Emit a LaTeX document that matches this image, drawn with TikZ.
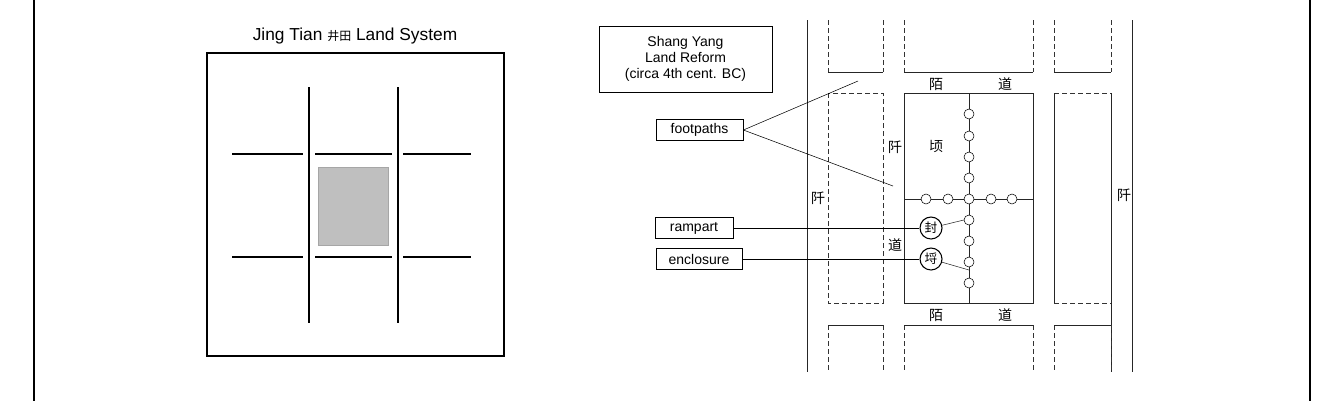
\documentclass[tikz,border=0pt]{standalone}
\usepackage{fontspec}
\setmainfont{Liberation Sans}
\newfontfamily\cjk{Noto Sans CJK SC}
\begin{document}
\begin{tikzpicture}[x=0.75pt,y=-0.75pt,
  lbl/.style={draw,semithick,inner sep=0pt,font=\fontsize{10.5}{12}\selectfont},
  dot/.style={circle,draw,fill=white,inner sep=0pt,minimum size=7.5pt},
  big/.style={circle,draw,thick,fill=white,inner sep=0pt,minimum size=16.5pt,font=\cjk\fontsize{9.5}{10}\selectfont},
  ch/.style={font=\cjk\fontsize{10.5}{11}\selectfont,fill=white,inner sep=0.5pt},
  dsh/.style={dashed,dash pattern=on 4pt off 2pt,black!80},
  map/.style={black!85}]
\useasboundingbox (0,0) rectangle (1328,401);
\draw[thick] (34,0) -- (34,401);
\draw[thick] (1310,0) -- (1310,401);
% left
\node[font=\fontsize{13}{15}\selectfont] (title) at (355,36) {Jing Tian {\cjk\fontsize{9}{10}\selectfont 井田} Land System};
\draw[thick] (207,53) rectangle (504,356);
\fill[gray!50,draw=gray!70] (318,167) rectangle (388,245);
\draw[very thick] (309,87) -- (309,323) (398,87) -- (398,323);
\foreach \y in {154,257}{
  \draw[very thick] (232,\y) -- (303,\y) (315,\y) -- (392,\y) (403,\y) -- (471,\y);}
% map
\draw[map] (807,20) -- (807,372) (1132,20) -- (1132,372) (1111,93) -- (1111,372);
\foreach \xa/\xb in {828/883,904/1033,1054/1111}{
  \draw[dsh] (\xa,20) -- (\xa,72) (\xb,20) -- (\xb,72) (\xa,325) -- (\xa,372) (\xb,325) -- (\xb,372);
  \draw[map] (\xa,72) -- (\xb,72) (\xa,325) -- (\xb,325);}
\draw[dsh] (828,93) rectangle (883,303);
\draw[dsh] (1054,93) -- (1111,93) (1054,303) -- (1111,303);
\draw[map] (1054,93) -- (1054,303);
\draw[map] (904,93) rectangle (1033,303);
\draw[map] (969,93) -- (969,303) (904,199) -- (1033,199);
\foreach \i/\y in {1/114,2/136,3/157,4/178,5/199,6/220,7/241,8/262,9/283}
  \node[dot] (v\i) at (969,\y) {};
\foreach \i/\x in {1/926,2/948,4/991,5/1012}
  \node[dot] (h\i) at (\x,199) {};
\node[big] (feng) at (931,228) {封};
\node[big] (lie) at (931,259) {埒};
\draw[map] (feng) -- (v6.west);
\draw[map] (lie) -- (969,270);
\node[ch] (m1) at (936,84) {陌};
\node[ch] (d1) at (1005,84) {道};
\node[ch] (m2) at (936,315) {陌};
\node[ch] (d2) at (1005,315) {道};
\node[ch] (q1) at (895,147) {阡};
\node[ch] (k) at (936,146) {顷};
\node[ch] (q2) at (818,198) {阡};
\node[ch] (d3) at (895,245) {道};
\node[ch] (q3) at (1124,195) {阡};
% labels
\node[lbl,minimum width=173pt*0.75,minimum height=66pt*0.75,align=center] (sy) at (685.5,59) {Shang Yang\\Land Reform\\(circa 4th cent. BC)};
\node[lbl,minimum width=87pt*0.75,minimum height=21pt*0.75] (fp) at (699.5,130) {footpaths};
\node[lbl,minimum width=78pt*0.75,minimum height=21pt*0.75] (rp) at (694,228) {rampart};
\node[lbl,minimum width=86pt*0.75,minimum height=21pt*0.75] (en) at (699,259) {enclosure};
\coordinate (f1) at (858,81);
\coordinate (f2) at (893,186);
\draw (fp.east) -- (f1) (fp.east) -- (f2);
\draw (rp.east) -- (feng.west);
\draw (en.east) -- (lie.west);
\end{tikzpicture}
\end{document}
